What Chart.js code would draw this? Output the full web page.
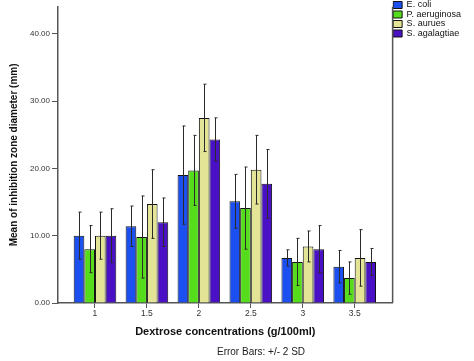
<!DOCTYPE html>
<html>
<head>
<meta charset="utf-8">
<title>Inhibition zone by dextrose concentration</title>
<script src="https://cdn.jsdelivr.net/npm/chart.js"></script>
<style>
    body {
        margin: 0;
        background: #fff;
        font-family: Arial, "Liberation Sans", sans-serif;
    }
    .wrap {
        position: relative;
        width: 474px;
        height: 361px;
    }
</style>
</head>
<body>
<div class="wrap">
    <canvas id="chart"></canvas>
</div>

<script>
// data (means and +/- 2 SD)
const concentrations = [1, 1.5, 2, 2.5, 3, 3.5];
const tickLabels = ['1', '1.5', '2', '2.5', '3', '3.5'];
const yTicks = [0, 10, 20, 30, 40];

const eColiMean = [10.0, 11.4, 19.0, 15.1, 6.7, 5.4];
const eColiErr = [3.5, 3.0, 7.3, 4.0, 1.2, 2.4];
const pAerMean = [8.0, 9.8, 19.7, 14.1, 6.1, 3.7];
const pAerErr = [3.5, 6.1, 5.2, 6.1, 3.5, 2.4];
const sAurMean = [10.0, 14.7, 27.5, 19.8, 8.4, 6.7];
const sAurErr = [3.5, 5.1, 5.0, 5.1, 2.3, 4.2];
const sAgaMean = [10.0, 12.0, 24.3, 17.7, 8.0, 6.1];
const sAgaErr = [4.0, 3.6, 3.2, 5.1, 3.5, 2.0];

function points(values) {
    return values.map((v, i) => ({ x: concentrations[i], y: v }));
}

const series = [
    { label: 'E. coli', data: eColiMean, err: eColiErr, color: '#1b4ff0' },
    { label: 'P. aeruginosa', data: pAerMean, err: pAerErr, color: '#55dd1c' },
    { label: 'S. aurues', data: sAurMean, err: sAurErr, color: '#e4e497' },
    { label: 'S. agalagtiae', data: sAgaMean, err: sAgaErr, color: '#4a10c6' }
];

// error bars + frame + footnote
const extras = {
    id: 'extras',
    afterDatasetsDraw(chart) {
        const ctx = chart.ctx;
        const y = chart.scales.y;
        ctx.save();
        ctx.strokeStyle = '#2a2a2a';
        ctx.lineWidth = 1;
        chart.data.datasets.forEach((ds, di) => {
            const meta = chart.getDatasetMeta(di);
            meta.data.forEach((bar, i) => {
                const m = series[di].data[i];
                const e = series[di].err[i];
                const top = y.getPixelForValue(m + e);
                const bot = y.getPixelForValue(m - e);
                const x = Math.round(bar.x) + 0.5;
                ctx.beginPath();
                ctx.moveTo(x, top);
                ctx.lineTo(x, bot);
                ctx.moveTo(x - 1, top);
                ctx.lineTo(x + 2, top);
                ctx.moveTo(x - 1, bot);
                ctx.lineTo(x + 2, bot);
                ctx.stroke();
            });
        });
        ctx.restore();
    },
    afterDraw(chart) {
        const ctx = chart.ctx;
        const area = chart.chartArea;
        ctx.save();
        ctx.strokeStyle = '#555';
        ctx.lineWidth = 1.5;
        ctx.beginPath();
        ctx.moveTo(area.right, area.top);
        ctx.lineTo(area.right, area.bottom);
        ctx.stroke();
        ctx.fillStyle = '#222';
        ctx.font = '10px Arial, "Liberation Sans", sans-serif';
        ctx.textAlign = 'center';
        ctx.textBaseline = 'middle';
        ctx.fillText('Error Bars: +/- 2 SD', 261, 352);
        ctx.restore();
    }
};

new Chart(document.getElementById('chart'), {
    type: 'bar',
    data: {
        datasets: series.map(s => ({
            label: s.label,
            data: points(s.data),
            backgroundColor: s.color,
            borderColor: '#111',
            borderWidth: 1,
            categoryPercentage: 0.82,
            barPercentage: 1.0
        }))
    },
    options: {
        responsive: true,
        maintainAspectRatio: false,
        animation: false,
        layout: { padding: { left: 0, right: 3, top: 0, bottom: 22 } },
        plugins: {
            legend: {
                position: 'right',
                align: 'start',
                labels: {
                    boxWidth: 9,
                    boxHeight: 7,
                    padding: 0.5,
                    color: '#111',
                    font: { size: 9, family: 'Arial, "Liberation Sans", sans-serif' }
                }
            },
            tooltip: { enabled: false }
        },
        scales: {
            x: {
                type: 'linear',
                min: 0.644,
                max: 3.865,
                offset: false,
                afterFit(scale) { scale.height = 36; },
                afterBuildTicks(scale) {
                    scale.ticks = concentrations.map(v => ({ value: v }));
                },
                ticks: {
                    autoSkip: false,
                    maxRotation: 0,
                    padding: 1,
                    color: '#333',
                    font: { size: 8.5 },
                    callback: (v, i) => tickLabels[i]
                },
                grid: {
                    drawOnChartArea: false,
                    offset: false,
                    tickLength: 5,
                    color: '#555'
                },
                border: { color: '#555', width: 1.5 },
                title: {
                    display: true,
                    text: 'Dextrose concentrations (g/100ml)',
                    color: '#111',
                    padding: { top: 4, bottom: 0 },
                    font: { size: 11, weight: 'bold', family: 'Arial, "Liberation Sans", sans-serif' }
                }
            },
            y: {
                min: 0,
                max: 44,
                afterFit(scale) { scale.width = 58; },
                afterBuildTicks(scale) {
                    scale.ticks = yTicks.map(v => ({ value: v }));
                },
                ticks: {
                    padding: 2,
                    color: '#333',
                    font: { size: 8 },
                    callback: v => v.toFixed(2)
                },
                grid: {
                    drawOnChartArea: false,
                    tickLength: 6,
                    color: '#555'
                },
                border: { color: '#555', width: 1.5 },
                title: {
                    display: true,
                    text: 'Mean of inhibition zone diameter (mm)',
                    color: '#111',
                    padding: { top: 8, bottom: 0 },
                    font: { size: 10, weight: 'bold', family: 'Arial, "Liberation Sans", sans-serif' }
                }
            }
        }
    },
    plugins: [extras]
});
</script>
</body>
</html>
